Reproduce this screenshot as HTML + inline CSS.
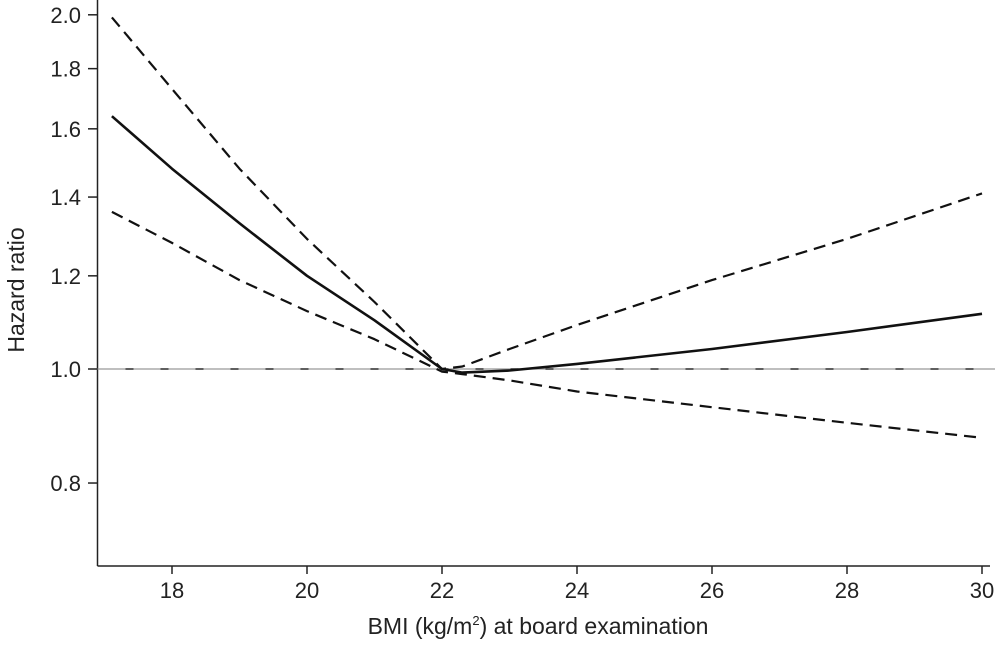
<!DOCTYPE html>
<html><head><meta charset="utf-8"><style>
html,body{margin:0;padding:0;background:#fff;}
svg text{font-family:"Liberation Sans",Arial,sans-serif;fill:#222;}
</style></head><body>
<svg id="chart" width="995" height="642" viewBox="0 0 995 642">
<g id="axes"></g>
<g id="series"></g>
<text x="0" y="0" transform="translate(24,290) rotate(-90)" text-anchor="middle" font-size="23">Hazard ratio</text>
<text x="538" y="634" text-anchor="middle" font-size="23">BMI (kg/m<tspan dy="-9" font-size="13">2</tspan><tspan dy="9">) at board examination</tspan></text>
</svg>
<script>
const bmi = [17.11, 18, 19, 20, 21, 22, 22.3, 23, 24, 26, 28, 30];
const hrEstimate = [1.64, 1.48, 1.33, 1.20, 1.10, 1.0, 0.993, 0.997, 1.01, 1.04, 1.075, 1.114];
const hrUpper = [1.99, 1.73, 1.48, 1.29, 1.14, 1.0, 1.005, 1.04, 1.09, 1.19, 1.29, 1.41];
const hrLower = [1.36, 1.28, 1.19, 1.12, 1.06, 0.995, 0.99, 0.978, 0.957, 0.928, 0.90, 0.874];
const xTicks = [18, 20, 22, 24, 26, 28, 30];
const yTicks = [0.8, 1.0, 1.2, 1.4, 1.6, 1.8, 2.0];
const yTickLabels = ["0.8", "1.0", "1.2", "1.4", "1.6", "1.8", "2.0"];

const NS = "http://www.w3.org/2000/svg";
const X0 = 97.5, YB = 566;
function xs(v){ return 172 + (v - 18) * 67.5; }
function ys(v){ return 369 - Math.log(v) * 511; }
function mk(tag, attrs, parent){
  const e = document.createElementNS(NS, tag);
  for (const k in attrs) e.setAttribute(k, attrs[k]);
  parent.appendChild(e); return e;
}
const axes = document.getElementById('axes');
const series = document.getElementById('series');

const ya = mk('line', {x1:X0, y1:0, x2:X0, y2:YB, stroke:'#222', 'stroke-width':1.5}, axes);


const xa = mk('line', {x1:X0, y1:YB, x2:990, y2:YB, stroke:'#222', 'stroke-width':1.5}, axes);



yTicks.forEach((t, i) => {
  const y = ys(t);
  const tk = mk('line', {x1:88, y1:y, x2:X0, y2:y, stroke:'#222', 'stroke-width':1.5}, axes);
  
  
  const tx = mk('text', {x:81, y:y + 8, 'text-anchor':'end', 'font-size':22}, axes);
  tx.textContent = yTickLabels[i];
  
  
});
xTicks.forEach(t => {
  const x = xs(t);
  const tk = mk('line', {x1:x, y1:YB, x2:x, y2:YB + 8, stroke:'#222', 'stroke-width':1.5}, axes);
  
  
  const tx = mk('text', {x:x, y:YB + 32, 'text-anchor':'middle', 'font-size':22}, axes);
  tx.textContent = String(t);
  
  
});

const ref = mk('line', {x1:X0, y1:ys(1), x2:995, y2:ys(1), stroke:'#999', 'stroke-width':1.2}, series);


const ref2 = mk('line', {x1:X0 + 28, y1:ys(1), x2:995, y2:ys(1), stroke:'#333', 'stroke-width':1.5, 'stroke-dasharray':'8 27'}, series);



function pathFor(vals){
  return bmi.map((b, i) => (i ? 'L' : 'M') + xs(b).toFixed(1) + ',' + ys(vals[i]).toFixed(1)).join(' ');
}
const up = mk('path', {d:pathFor(hrUpper), fill:'none', stroke:'#111', 'stroke-width':2.2, 'stroke-dasharray':'12 7', 'stroke-linejoin':'round'}, series);


const lo = mk('path', {d:pathFor(hrLower), fill:'none', stroke:'#111', 'stroke-width':2.2, 'stroke-dasharray':'12 7', 'stroke-linejoin':'round'}, series);


const est = mk('path', {d:pathFor(hrEstimate), fill:'none', stroke:'#111', 'stroke-width':2.6, 'stroke-linejoin':'round'}, series);


</script>
</body></html>
